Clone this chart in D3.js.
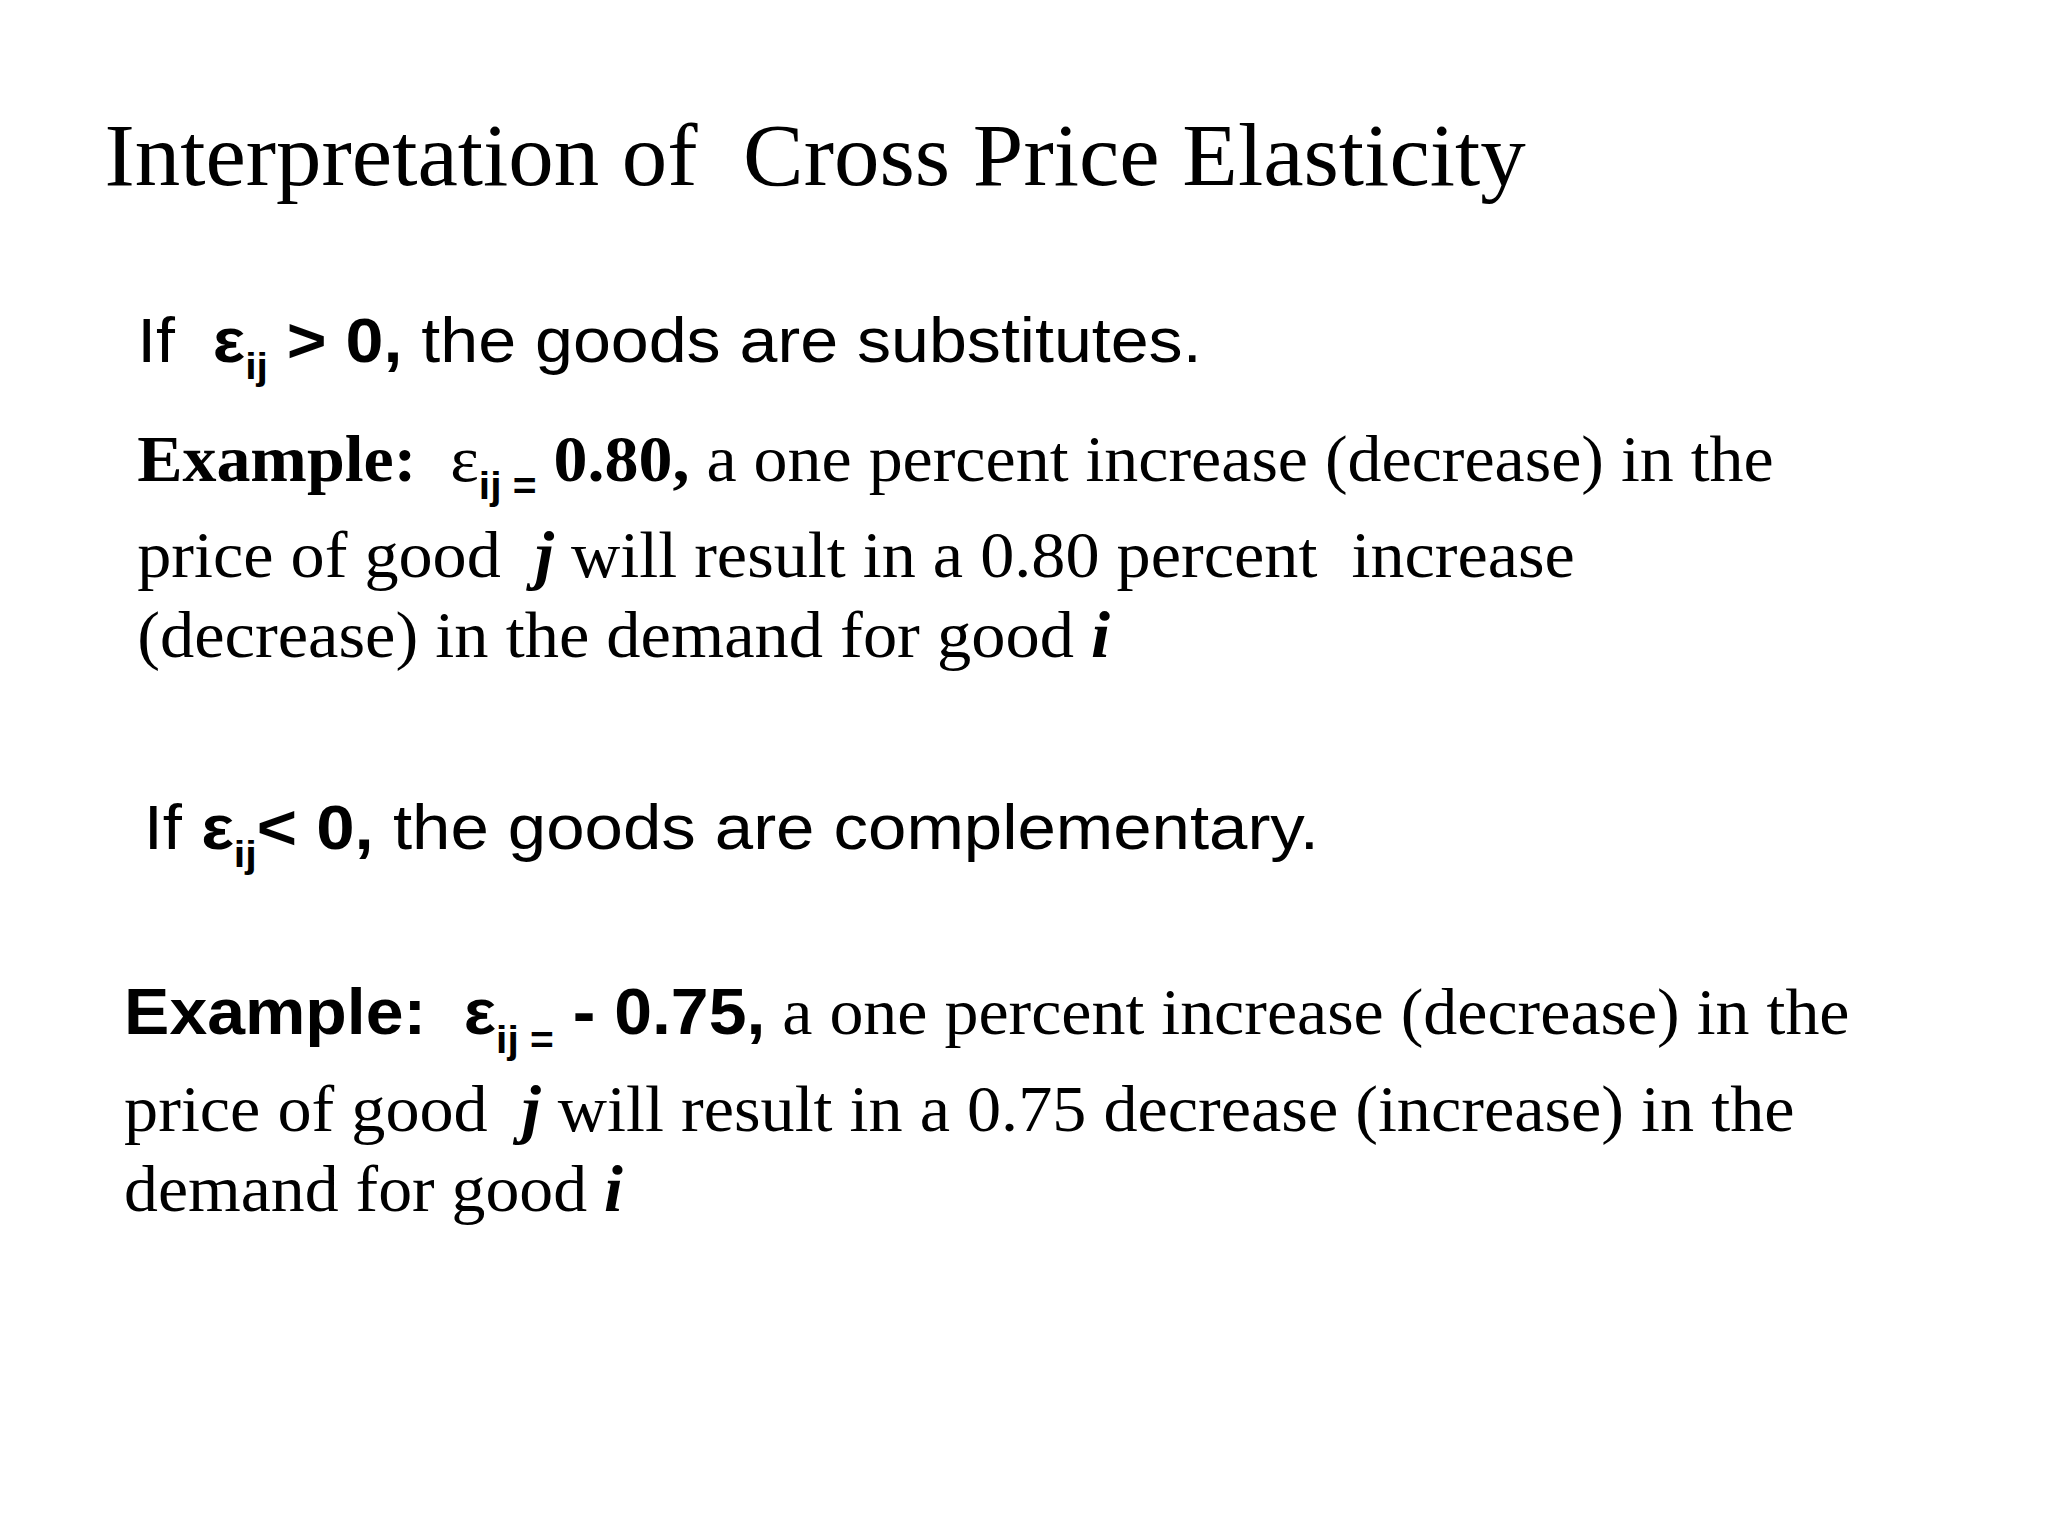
<!DOCTYPE html>
<html>
<head>
<meta charset="utf-8">
<script src="https://cdn.jsdelivr.net/npm/d3@7"></script>
<style>
  body { margin: 0; background: #fff; }
</style>
</head>
<body>
<div id="slide"></div>
<script>
const SANS = "Liberation Sans, Arial, sans-serif";
const SERIF = "Liberation Serif, Times New Roman, serif";

// slide text, one entry per line: segments [text, font, bold, italic, sub]
const titleText = "Interpretation of  Cross Price Elasticity";
const lineBaselines = [277, 368, 442, 503, 650, 792, 866, 927];
const lineStarts = [105, 105, 105, 105, 110, 95, 95, 95];
const lineEnds = [920, 1358, 1206, 850, 1010, 1416, 1374, 477];
const lineSizes = [48, 50, 50, 50, 48, 50, 50, 50];
const lineSegments = [
  [["If  ", "sans"], ["ε", "sans", 1], ["ij", "sans", 1, 0, 1], [" > 0,", "sans", 1], [" the goods are substitutes.", "sans"]],
  [["Example:  ", "serif", 1], ["ε", "serif"], ["ij =", "sans", 1, 0, 1], [" 0.80,", "serif", 1], [" a one percent increase (decrease) in the", "serif"]],
  [["price of good  ", "serif"], ["j", "serif", 1, 1], [" will result in a 0.80 percent  increase", "serif"]],
  [["(decrease) in the demand for good ", "serif"], ["i", "serif", 1, 1]],
  [["If ", "sans"], ["ε", "sans", 1], ["ij", "sans", 1, 0, 1], ["< 0,", "sans", 1], [" the goods are complementary.", "sans"]],
  [["Example:  ", "sans", 1], ["ε", "sans", 1], ["ij =", "sans", 1, 0, 1], [" - 0.75,", "sans", 1], [" a one percent increase (decrease) in the", "serif"]],
  [["price of good  ", "serif"], ["j", "serif", 1, 1], [" will result in a 0.75 decrease (increase) in the", "serif"]],
  [["demand for good ", "serif"], ["i", "serif", 1, 1]]
];

const svg = d3.select("#slide").append("svg")
    .attr("width", 2048)
    .attr("height", 1536)
    .attr("viewBox", "0 0 1568 1176");

svg.append("rect").attr("width", 1568).attr("height", 1176).attr("fill", "#fff");

function fitWidth(sel, x0, x1) {
  const w = sel.node().getComputedTextLength();
  if (w > 0) sel.attr("transform", `translate(${x0},0) scale(${(x1 - x0) / w},1) translate(${-x0},0)`);
}

const title = svg.append("text")
    .attr("x", 80).attr("y", 142)
    .attr("font-family", SERIF)
    .attr("font-size", 68)
    .attr("fill", "#000")
    .style("white-space", "pre")
    .text(titleText);
fitWidth(title, 80, 1168);

lineSegments.forEach((segs, i) => {
  const size = lineSizes[i];
  const t = svg.append("text")
      .attr("x", lineStarts[i])
      .attr("y", lineBaselines[i])
      .attr("font-size", size)
      .attr("fill", "#000")
      .style("white-space", "pre");
  let shifted = false;
  segs.forEach(([txt, font, bold, italic, sub]) => {
    const sp = t.append("tspan")
        .attr("font-family", font === "sans" ? SANS : SERIF)
        .attr("font-weight", bold ? "bold" : "normal")
        .attr("font-style", italic ? "italic" : "normal")
        .text(txt);
    if (sub) {
      sp.attr("font-size", size * 0.6).attr("dy", size * 0.28);
      shifted = true;
    } else if (shifted) {
      sp.attr("dy", -size * 0.28);
      shifted = false;
    }
  });
  fitWidth(t, lineStarts[i], lineEnds[i]);
});
</script>
</body>
</html>
